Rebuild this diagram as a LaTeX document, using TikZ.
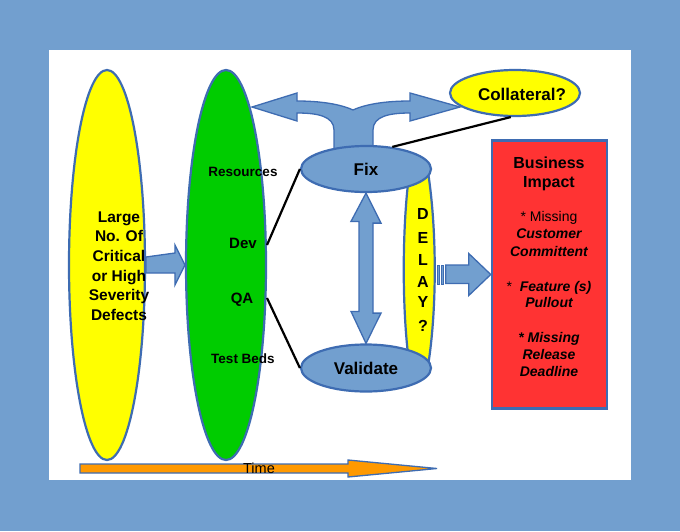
\documentclass[tikz,border=0pt]{standalone}
\usepackage{fontspec}
\setmainfont{Liberation Sans}
\usetikzlibrary{shapes.geometric,calc}
\definecolor{frameblue}{RGB}{114,159,207}
\definecolor{shapeblue}{RGB}{114,159,207}
\definecolor{edgeblue}{RGB}{62,108,178}
\definecolor{yel}{RGB}{255,255,0}
\definecolor{grn}{RGB}{0,204,0}
\definecolor{bired}{RGB}{255,51,51}
\definecolor{orng}{RGB}{255,153,0}
\tikzset{
  bigell/.style={ellipse, draw=edgeblue, line width=2.2pt, inner sep=0pt},
  blueell/.style={ellipse, draw=edgeblue, line width=2.2pt, fill=shapeblue, inner sep=0pt,
     font=\bfseries\fontsize{17}{20}\selectfont},
  blk/.style={draw=edgeblue, line width=1.3pt, fill=shapeblue, line join=miter},
  link/.style={draw=black, line width=2.2pt},
  lbl/.style={inner sep=0pt, anchor=base},
  yeltxt/.style={inner sep=0pt, align=center, font=\bfseries\fontsize{15.5}{19.6}\selectfont},
  grtxt/.style={inner sep=0pt, font=\bfseries\fontsize{15}{18}\selectfont},
  grsmall/.style={inner sep=0pt, font=\bfseries\fontsize{13.5}{16}\selectfont},
  delaytxt/.style={lbl, font=\bfseries\fontsize{16}{18}\selectfont},
  bititle/.style={lbl, font=\bfseries\fontsize{16}{19}\selectfont},
  bibody/.style={lbl, font=\fontsize{14}{17}\selectfont},
  bibi/.style={lbl, font=\bfseries\itshape\fontsize{14}{17}\selectfont}
}
\begin{document}
\begin{tikzpicture}[x=1pt,y=-1pt]
\fill[frameblue] (0,0) rectangle (680,531);
\useasboundingbox (0,0) rectangle (680,531);
\fill[white] (49,50) rectangle (631,480);

% big ellipses
\node[bigell, fill=yel, minimum width=76, minimum height=390] (defects) at (107,265) {};
\node[bigell, fill=grn, minimum width=80, minimum height=390] (green) at (226,265) {};

% arrow defects -> green
\draw[blk] (green.west) -- ++(-10,-20) -- ++(0,8) -- (146,257) -- (146,273) -- ($(green.west)+(-10,8)$) -- ++(0,12) -- cycle;

% top T-shaped double arrow
\draw[blk] (252,107) -- (297,93) -- (297,101) .. controls (320,101) and (340,104) .. (353,110)
  .. controls (366,104) and (386,101) .. (410,101) -- (410,93) -- (460,107) -- (410,121) -- (410,113)
  .. controls (390,113) and (373,116) .. (373,130) -- (373,155) -- (334,155) -- (334,130)
  .. controls (334,116) and (317,113) .. (297,113) -- (297,121) -- cycle;

% DELAY band
\draw[draw=edgeblue, line width=2.2pt, fill=yel] (409,175) .. controls (402,230) and (402,310) .. (409,362)
  -- (428,366) .. controls (437,310) and (437,230) .. (428,172) -- cycle;

% Fix / Validate / Collateral
\node[blueell, minimum width=130, minimum height=46] (fix) at (366,169) {Fix};
\node[blueell, minimum width=130, minimum height=47] (val) at (366,368) {Validate};
\node[blueell, fill=yel, minimum width=130, minimum height=46] (coll) at (515,93) {};
\node[inner sep=0pt, font=\bfseries\fontsize{17}{20}\selectfont] (colltext) at (522,94) {Collateral?};

% vertical double arrow
\draw[blk] (fix.south) -- ++(15,30) -- ++(-8,0) -- ++(0,90) -- ++(8,0) -- (val.north)
  -- ++(-15,-32) -- ++(8,0) -- ++(0,-90) -- ++(-8,0) -- cycle;

% links
\coordinate (devpt) at (267,245);
\coordinate (qapt) at (267,298);
\draw[link] (devpt) -- (fix.west);
\draw[link] (qapt) -- (val.west);
\draw[link] (fix.40) -- (coll.-100);

% business impact box
\node[draw=edgeblue, line width=2.5pt, fill=bired, minimum width=115, minimum height=268, inner sep=0pt] (bi) at (549.5,274.5) {};

% striped arrow delay -> business impact
\draw[blk] (bi.west) -- ++(-22,21) -- ++(0,-12) -- ++(-23,0) -- ++(0,-18.5) -- ++(23,0) -- ++(0,-11.5) -- cycle;
\fill[shapeblue, draw=edgeblue, line width=0.8pt] ($(bi.west)+(-49.5,-9)$) rectangle ++(2.5,18.5);
\fill[shapeblue, draw=edgeblue, line width=0.8pt] ($(bi.west)+(-53,-9)$) rectangle ++(2,18.5);

% time arrow
\coordinate (tstart) at (80,464);
\coordinate (ttip) at (437,468.5);
\draw[draw=edgeblue, line width=1.3pt, fill=orng] (tstart) -- (348,464) -- (348,460) -- (ttip) -- (348,477) -- (348,473) -- (80,473) -- cycle;
\node[inner sep=0pt, font=\fontsize{14.5}{16}\selectfont] (time) at (259,468) {Time};

% texts
\node[yeltxt] (deftext) at (119,266) {Large\\No. Of\\Critical\\or High\\Severity\\Defects};
\node[grsmall] (res) at (243,172) {Resources};
\node[grtxt] (dev) at (243,243) {Dev};
\node[grtxt] (qa) at (242,300) {QA};
\node[grsmall] (tb) at (243,359) {Test Beds};

\node[delaytxt] (d1) at (423,219) {D};
\node[delaytxt] (d2) at (423,243) {E};
\node[delaytxt] (d3) at (423,265) {L};
\node[delaytxt] (d4) at (423,287) {A};
\node[delaytxt] (d5) at (423,307) {Y};
\node[delaytxt] (d6) at (423,331) {?};

\node[bititle] (b1) at (549,168) {Business};
\node[bititle] (b2) at (549,187.5) {Impact};
\node[bibody] (b3) at (549,221.5) {* Missing};
\node[bibi] (b4) at (549,238.5) {Customer};
\node[bibi] (b5) at (549,256) {Committent};
\node[bibody] (b6) at (549,291) {*\ \ \textbf{\textit{Feature (s)}}};
\node[bibi] (b7) at (549,307.5) {Pullout};
\node[bibi] (b8) at (549,342) {* Missing};
\node[bibi] (b9) at (549,359.5) {Release};
\node[bibi] (b10) at (549,376.5) {Deadline};
\end{tikzpicture}
\end{document}
